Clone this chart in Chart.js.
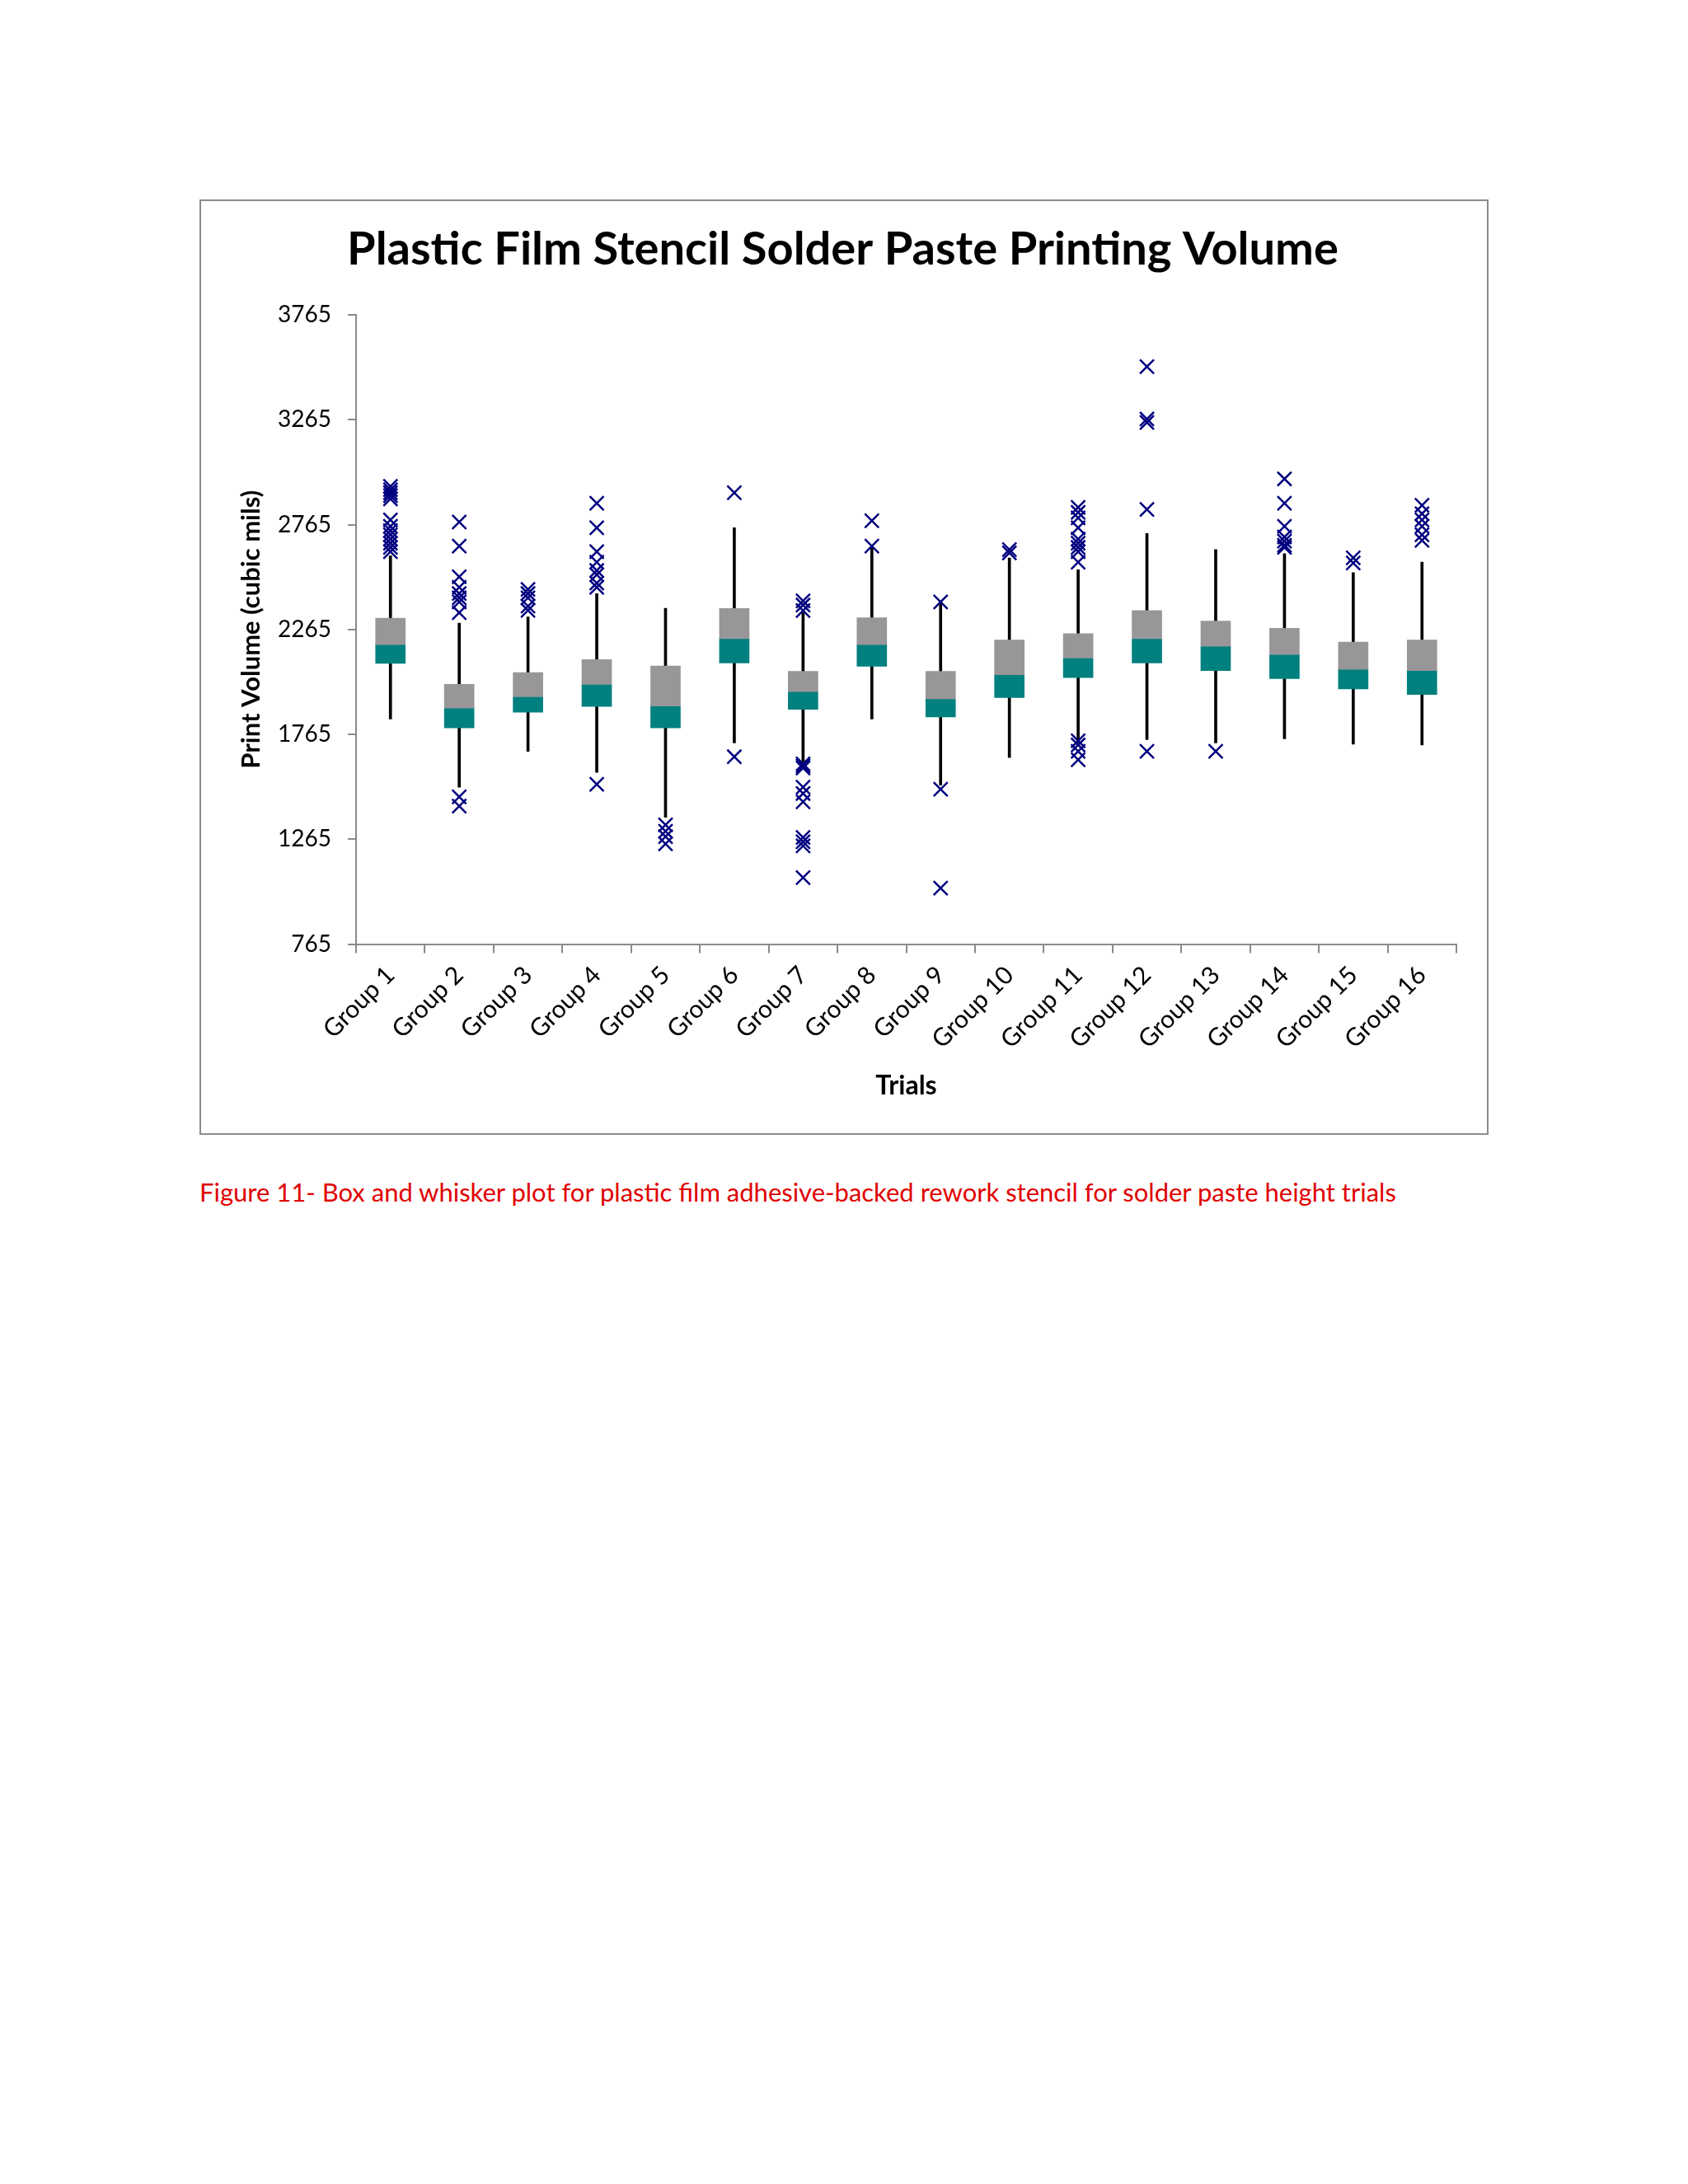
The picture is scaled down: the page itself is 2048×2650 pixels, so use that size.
<!DOCTYPE html>
<html>
<head>
<meta charset="utf-8">
<script src="https://cdn.jsdelivr.net/npm/chart.js@4.4.1/dist/chart.umd.min.js"></script>
<style>
  body { margin: 0; width: 2048px; height: 2650px; background: #fff; position: relative; }
  #frame { position: absolute; left: 242px; top: 242px; width: 1564px; height: 1135px;
           box-sizing: border-box; border: 2px solid #8c8c8c; pointer-events: none; }
  #chart { position: absolute; left: 242px; top: 242px; }
  #caption { position: absolute; left: 242px; top: 1427px; font-family: Lato, sans-serif;
             font-size: 31px; color: #e00000; white-space: nowrap; }
</style>
</head>
<body>
<canvas id="chart" width="1564" height="1135"></canvas>
<div id="frame"></div>
<div id="caption">Figure 11- Box and whisker plot for plastic film adhesive-backed rework stencil for solder paste height trials</div>
<script>
const groups = ['Group 1', 'Group 2', 'Group 3', 'Group 4', 'Group 5', 'Group 6', 'Group 7', 'Group 8',
                'Group 9', 'Group 10', 'Group 11', 'Group 12', 'Group 13', 'Group 14', 'Group 15', 'Group 16'];

// box pieces
const q1          = [2103, 1796, 1870, 1898, 1796, 2105, 1884, 2089, 1848, 1940, 2035, 2105, 2069, 2031, 1981, 1955];
const median      = [2193, 1890, 1944, 2003, 1900, 2221, 1969, 2193, 1934, 2049, 2129, 2221, 2185, 2145, 2075, 2069];
const q3          = [2319, 2003, 2059, 2121, 2091, 2365, 2065, 2321, 2065, 2215, 2245, 2355, 2305, 2271, 2205, 2215];
const whiskerLow  = [1838, 1513, 1684, 1584, 1369, 1724, 1634, 1838, 1523, 1654, 1724, 1740, 1724, 1744, 1718, 1714];
const whiskerHigh = [2616, 2295, 2325, 2436, 2366, 2750, 2345, 2656, 2396, 2606, 2550, 2722, 2646, 2626, 2536, 2586];

// outliers per group
const outliers = [
  [2947, 2931, 2917, 2903, 2887, 2787, 2757, 2736, 2716, 2696, 2676, 2656, 2636],
  [2777, 2662, 2516, 2466, 2436, 2416, 2396, 2345, 1467, 1423],
  [2456, 2436, 2416, 2376, 2356],
  [2867, 2750, 2636, 2586, 2546, 2526, 2486, 2466, 1527],
  [1333, 1303, 1277, 1243],
  [2917, 1658],
  [2401, 2381, 2355, 1624, 1614, 1604, 1513, 1483, 1443, 1273, 1253, 1233, 1082],
  [2783, 2662],
  [2396, 1503, 1032],
  [2646, 2630],
  [2847, 2823, 2797, 2750, 2696, 2676, 2656, 2636, 2586, 1734, 1714, 1684, 1644],
  [3518, 3268, 3252, 2837, 1684],
  [1684],
  [2983, 2867, 2757, 2706, 2686, 2666, 2656],
  [2606, 2582],
  [2857, 2817, 2787, 2757, 2716, 2690]
];

const yTicks = [765, 1265, 1765, 2265, 2765, 3265, 3765];

const font = 'Lato, sans-serif';
const axisGray = '#8a8a8a';

// flatten outliers into points
const outlierPoints = [];
outliers.forEach((list, i) => list.forEach(v => outlierPoints.push({ x: groups[i], y: v })));

const data = {
  labels: groups,
  datasets: [
    {
      label: 'Outliers',
      type: 'line',
      data: outlierPoints,
      showLine: false,
      pointStyle: 'crossRot',
      pointRadius: 12,
      pointBorderWidth: 2.5,
      borderColor: '#000080',
      backgroundColor: '#000080',
      order: 1
    },
    {
      label: 'Upper box',
      data: median.map((m, i) => [m, q3[i]]),
      backgroundColor: '#989698',
      barThickness: 36,
      grouped: false,
      order: 2
    },
    {
      label: 'Lower box',
      data: q1.map((v, i) => [v, median[i]]),
      backgroundColor: '#00807f',
      barThickness: 36,
      grouped: false,
      order: 2
    },
    {
      label: 'Whisker',
      data: whiskerLow.map((v, i) => [v, whiskerHigh[i]]),
      backgroundColor: '#000000',
      barThickness: 3,
      grouped: false,
      order: 3
    }
  ]
};

const config = {
  type: 'bar',
  data,
  options: {
    responsive: false,
    animation: false,
    layout: { padding: { left: 36, right: 39, top: 0, bottom: 0 } },
    plugins: {
      legend: { display: false },
      tooltip: { enabled: false },
      title: {
        display: true,
        text: 'Plastic Film Stencil Solder Paste Printing Volume',
        color: '#000',
        font: { family: font, size: 56, weight: 'bold' },
        padding: { top: 27.4, bottom: 45.4 }
      }
    },
    scales: {
      x: {
        grid: { offset: true, drawOnChartArea: false, tickLength: 11, color: axisGray, lineWidth: 2 },
        border: { color: axisGray, width: 2 },
        ticks: { minRotation: 45, maxRotation: 45, color: '#000', padding: 9,
                 font: { family: font, size: 30 } },
        title: { display: true, text: 'Trials', color: '#000',
                 font: { family: font, size: 32, weight: 'bold' }, padding: { top: 0, bottom: 39.8 } },
        afterFit: s => { s.height = 231.5; }
      },
      y: {
        min: 765,
        max: 3765,
        afterBuildTicks: s => { s.ticks = yTicks.map(v => ({ value: v })); },
        grid: { drawOnChartArea: false, tickLength: 10, color: axisGray, lineWidth: 2 },
        border: { color: axisGray, width: 2 },
        ticks: { color: '#000', padding: 20, font: { family: font, size: 28 },
                 callback: v => String(v) },
        title: { display: true, text: 'Print Volume (cubic mils)', color: '#000',
                 font: { family: font, size: 31, weight: 'bold' }, padding: { top: 8.4, bottom: 0 } },
        afterFit: s => { s.width = 154; }
      }
    }
  }
};

const boxChart = new Chart(document.getElementById('chart'), config);
</script>
</body>
</html>
